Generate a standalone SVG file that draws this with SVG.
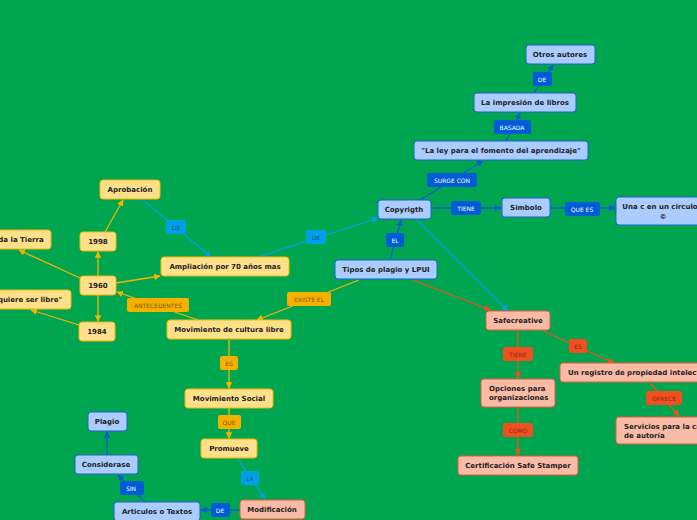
<svg xmlns="http://www.w3.org/2000/svg" width="697" height="520" viewBox="0 0 697 520">
<defs>
<marker id="ay" viewBox="0 0 10 10" refX="9" refY="5" markerWidth="5" markerHeight="5" orient="auto"><path d="M0,0L10,5L0,10z" fill="#f5b400"/></marker>
<marker id="ac" viewBox="0 0 10 10" refX="9" refY="5" markerWidth="5" markerHeight="5" orient="auto"><path d="M0,0L10,5L0,10z" fill="#00a0e8"/></marker>
<marker id="ab" viewBox="0 0 10 10" refX="9" refY="5" markerWidth="5" markerHeight="5" orient="auto"><path d="M0,0L10,5L0,10z" fill="#005cd6"/></marker>
<marker id="ao" viewBox="0 0 10 10" refX="9" refY="5" markerWidth="5" markerHeight="5" orient="auto"><path d="M0,0L10,5L0,10z" fill="#f05020"/></marker>
</defs>
<style>
text{font-family:"DejaVu Sans",sans-serif;font-size:7px;text-anchor:middle}
.n text{font-weight:bold;fill:#222}
.y rect{fill:#ffe08a;stroke:#f5b800;stroke-width:1}
.b rect{fill:#aaccff;stroke:#1f5fd0;stroke-width:1}
.o rect{fill:#f9bba5;stroke:#e8593a;stroke-width:1}
.ly{stroke:#f5b400;fill:none;stroke-width:1.3}
.lc{stroke:#00a0e8;fill:none;stroke-width:1.3}
.lb{stroke:#005cd6;fill:none;stroke-width:1.3}
.lo{stroke:#f05020;fill:none;stroke-width:1.3}
.ty rect{fill:#f5b000}.ty text{fill:#7a5a00;font-size:6px}
.tc rect{fill:#00a0e8}.tc text{fill:#0a4f80;font-size:6px}
.tb rect{fill:#005cd6}.tb text{fill:#fff;font-size:6px}
.to rect{fill:#f05020}.to text{fill:#8a2a10;font-size:6px}
</style>
<rect width="697" height="520" fill="#00a550"/>
<g id="connectors">
<path class="lc" d="M142,199L211,257" marker-end="url(#ac)"/>
<path class="lc" d="M258,257L378,218" marker-end="url(#ac)"/>
<path class="ly" d="M105,232L123,200" marker-end="url(#ay)"/>
<path class="ly" d="M80,278L19,250" marker-end="url(#ay)"/>
<path class="ly" d="M98,276V252" marker-end="url(#ay)"/>
<path class="ly" d="M98,295V321" marker-end="url(#ay)"/>
<path class="ly" d="M116,283L160,276" marker-end="url(#ay)"/>
<path class="ly" d="M79,325L31,310" marker-end="url(#ay)"/>
<path class="ly" d="M198,320L117,292" marker-end="url(#ay)"/>
<path class="ly" d="M359,280L257,320" marker-end="url(#ay)"/>
<path class="ly" d="M229,340V388" marker-end="url(#ay)"/>
<path class="ly" d="M229,408V438" marker-end="url(#ay)"/>
<path class="lc" d="M237,458L265,499" marker-end="url(#ac)"/>
<path class="lb" d="M240,510H201" marker-end="url(#ab)"/>
<path class="lb" d="M145,502L118,475" marker-end="url(#ab)"/>
<path class="lb" d="M107,455V432" marker-end="url(#ab)"/>
<path class="lb" d="M390,260L401,220" marker-end="url(#ab)"/>
<path class="lb" d="M433,208H501" marker-end="url(#ab)"/>
<path class="lb" d="M551,208H615" marker-end="url(#ab)"/>
<path class="lb" d="M420,200L483,161" marker-end="url(#ab)"/>
<path class="lb" d="M506,141L520,113" marker-end="url(#ab)"/>
<path class="lb" d="M534,93L553,65" marker-end="url(#ab)"/>
<path class="lc" d="M416,219L508,311" marker-end="url(#ac)"/>
<path class="lo" d="M413,280L490,310" marker-end="url(#ao)"/>
<path class="lo" d="M518,331V378" marker-end="url(#ao)"/>
<path class="lo" d="M543,331L614,363" marker-end="url(#ao)"/>
<path class="lo" d="M518,408V455" marker-end="url(#ao)"/>
<path class="lo" d="M650,383L679,416" marker-end="url(#ao)"/>
<g class="tc"><rect x="166" y="220" width="20" height="14" rx="2"/><text x="176" y="230">DE</text></g>
<g class="tc"><rect x="306" y="230" width="20" height="14" rx="2"/><text x="316" y="240">DE</text></g>
<g class="ty"><rect x="127" y="298" width="62" height="14" rx="2"/><text x="158" y="308">ANTECEDENTES</text></g>
<g class="ty"><rect x="287" y="292" width="44" height="14" rx="2"/><text x="309" y="302">EXISTE EL</text></g>
<g class="ty"><rect x="220" y="356" width="18" height="14" rx="2"/><text x="229" y="366">ES</text></g>
<g class="ty"><rect x="218" y="415" width="23" height="14" rx="2"/><text x="229" y="425">QUE</text></g>
<g class="tc"><rect x="241" y="471" width="18" height="14" rx="2"/><text x="250" y="481">LA</text></g>
<g class="tb"><rect x="211" y="503" width="19" height="14" rx="2"/><text x="220" y="513">DE</text></g>
<g class="tb"><rect x="120" y="481" width="24" height="14" rx="2"/><text x="131" y="491">SIN</text></g>
<g class="tb"><rect x="386" y="233" width="18" height="14" rx="2"/><text x="395" y="243">EL</text></g>
<g class="tb"><rect x="451" y="201" width="30" height="14" rx="2"/><text x="466" y="211">TIENE</text></g>
<g class="tb"><rect x="565" y="202" width="35" height="14" rx="2"/><text x="582" y="212">QUE ES</text></g>
<g class="tb"><rect x="427" y="173" width="50" height="14" rx="2"/><text x="452" y="183">SURGE CON</text></g>
<g class="tb"><rect x="494" y="120" width="37" height="14" rx="2"/><text x="512" y="130">BASADA</text></g>
<g class="tb"><rect x="533" y="72" width="19" height="14" rx="2"/><text x="542" y="82">DE</text></g>
<g class="to"><rect x="503" y="347" width="30" height="14" rx="2"/><text x="518" y="357">TIENE</text></g>
<g class="to"><rect x="569" y="339" width="18" height="14" rx="2"/><text x="578" y="349">ES</text></g>
<g class="to"><rect x="503" y="423" width="30" height="14" rx="2"/><text x="518" y="433">COMO</text></g>
<g class="to"><rect x="646" y="391" width="36" height="14" rx="2"/><text x="664" y="401">OFRECE</text></g>
</g>
<g id="n1" class="n y"><rect x="100" y="180" width="60" height="19" rx="3"/><text x="130" y="192">Aprobación</text></g>
<g id="n2" class="n y"><rect x="80" y="232" width="36" height="19" rx="3"/><text x="98" y="244">1998</text></g>
<g id="n3" class="n y"><rect x="-10" y="230" width="61" height="19" rx="3"/><text x="21" y="242">da la Tierra</text></g>
<g id="n4" class="n y"><rect x="80" y="276" width="36" height="19" rx="3"/><text x="98" y="288">1960</text></g>
<g id="n5" class="n y"><rect x="-10" y="290" width="81" height="19" rx="3"/><text x="30" y="302">quiere ser libre"</text></g>
<g id="n6" class="n y"><rect x="79" y="322" width="36" height="19" rx="3"/><text x="97" y="334">1984</text></g>
<g id="n7" class="n y"><rect x="161" y="257" width="128" height="19" rx="3"/><text x="225" y="269">Ampliación por 70 años mas</text></g>
<g id="n8" class="n y"><rect x="167" y="320" width="124" height="19" rx="3"/><text x="229" y="332">Movimiento de cultura libre</text></g>
<g id="n9" class="n y"><rect x="185" y="389" width="88" height="19" rx="3"/><text x="229" y="401">Movimiento Social</text></g>
<g id="n10" class="n y"><rect x="201" y="439" width="56" height="19" rx="3"/><text x="229" y="451">Promueve</text></g>
<g id="n11" class="n o"><rect x="240" y="500" width="65" height="19" rx="3"/><text x="272" y="512">Modificación</text></g>
<g id="n12" class="n b"><rect x="114" y="502" width="86" height="19" rx="3"/><text x="157" y="514">Articulos o Textos</text></g>
<g id="n13" class="n b"><rect x="75" y="455" width="63" height="19" rx="3"/><text x="106" y="467">Considerase</text></g>
<g id="n14" class="n b"><rect x="88" y="412" width="39" height="19" rx="3"/><text x="107" y="424">Plagio</text></g>
<g id="n15" class="n b"><rect x="378" y="200" width="53" height="19" rx="3"/><text x="404" y="212">Copyrigth</text></g>
<g id="n16" class="n b"><rect x="335" y="260" width="102" height="19" rx="3"/><text x="386" y="272">Tipos de plagio y LPUI</text></g>
<g id="n17" class="n b"><rect x="502" y="198" width="48" height="19" rx="3"/><text x="526" y="210">Simbolo</text></g>
<g id="n18" class="n b"><rect x="616" y="197" width="90" height="28" rx="3"/><text x="660" y="209">Una c en un circulo</text><text x="663" y="219">©</text></g>
<g id="n19" class="n b"><rect x="414" y="141" width="174" height="19" rx="3"/><text x="501" y="153">"La ley para el fomento del aprendizaje"</text></g>
<g id="n20" class="n b"><rect x="474" y="93" width="102" height="19" rx="3"/><text x="525" y="105">La impresión de libros</text></g>
<g id="n21" class="n b"><rect x="526" y="45" width="69" height="19" rx="3"/><text x="560" y="57">Otros autores</text></g>
<g id="n22" class="n o"><rect x="486" y="311" width="64" height="19" rx="3"/><text x="518" y="323">Safecreative</text></g>
<g id="n23" class="n o"><rect x="560" y="363" width="150" height="19" rx="3"/><text x="568" y="375" style="text-anchor:start">Un registro de propiedad intelectual</text></g>
<g id="n24" class="n o"><rect x="481" y="379" width="74" height="28" rx="3"/><text x="489" y="391" style="text-anchor:start">Opciones para</text><text x="489" y="400" style="text-anchor:start">organizaciones</text></g>
<g id="n25" class="n o"><rect x="458" y="456" width="120" height="19" rx="3"/><text x="518" y="468">Certificación Safe Stamper</text></g>
<g id="n26" class="n o"><rect x="616" y="417" width="90" height="27" rx="3"/><text x="624" y="429" style="text-anchor:start">Servicios para la creación</text><text x="624" y="438" style="text-anchor:start">de autoría</text></g>
</svg>
